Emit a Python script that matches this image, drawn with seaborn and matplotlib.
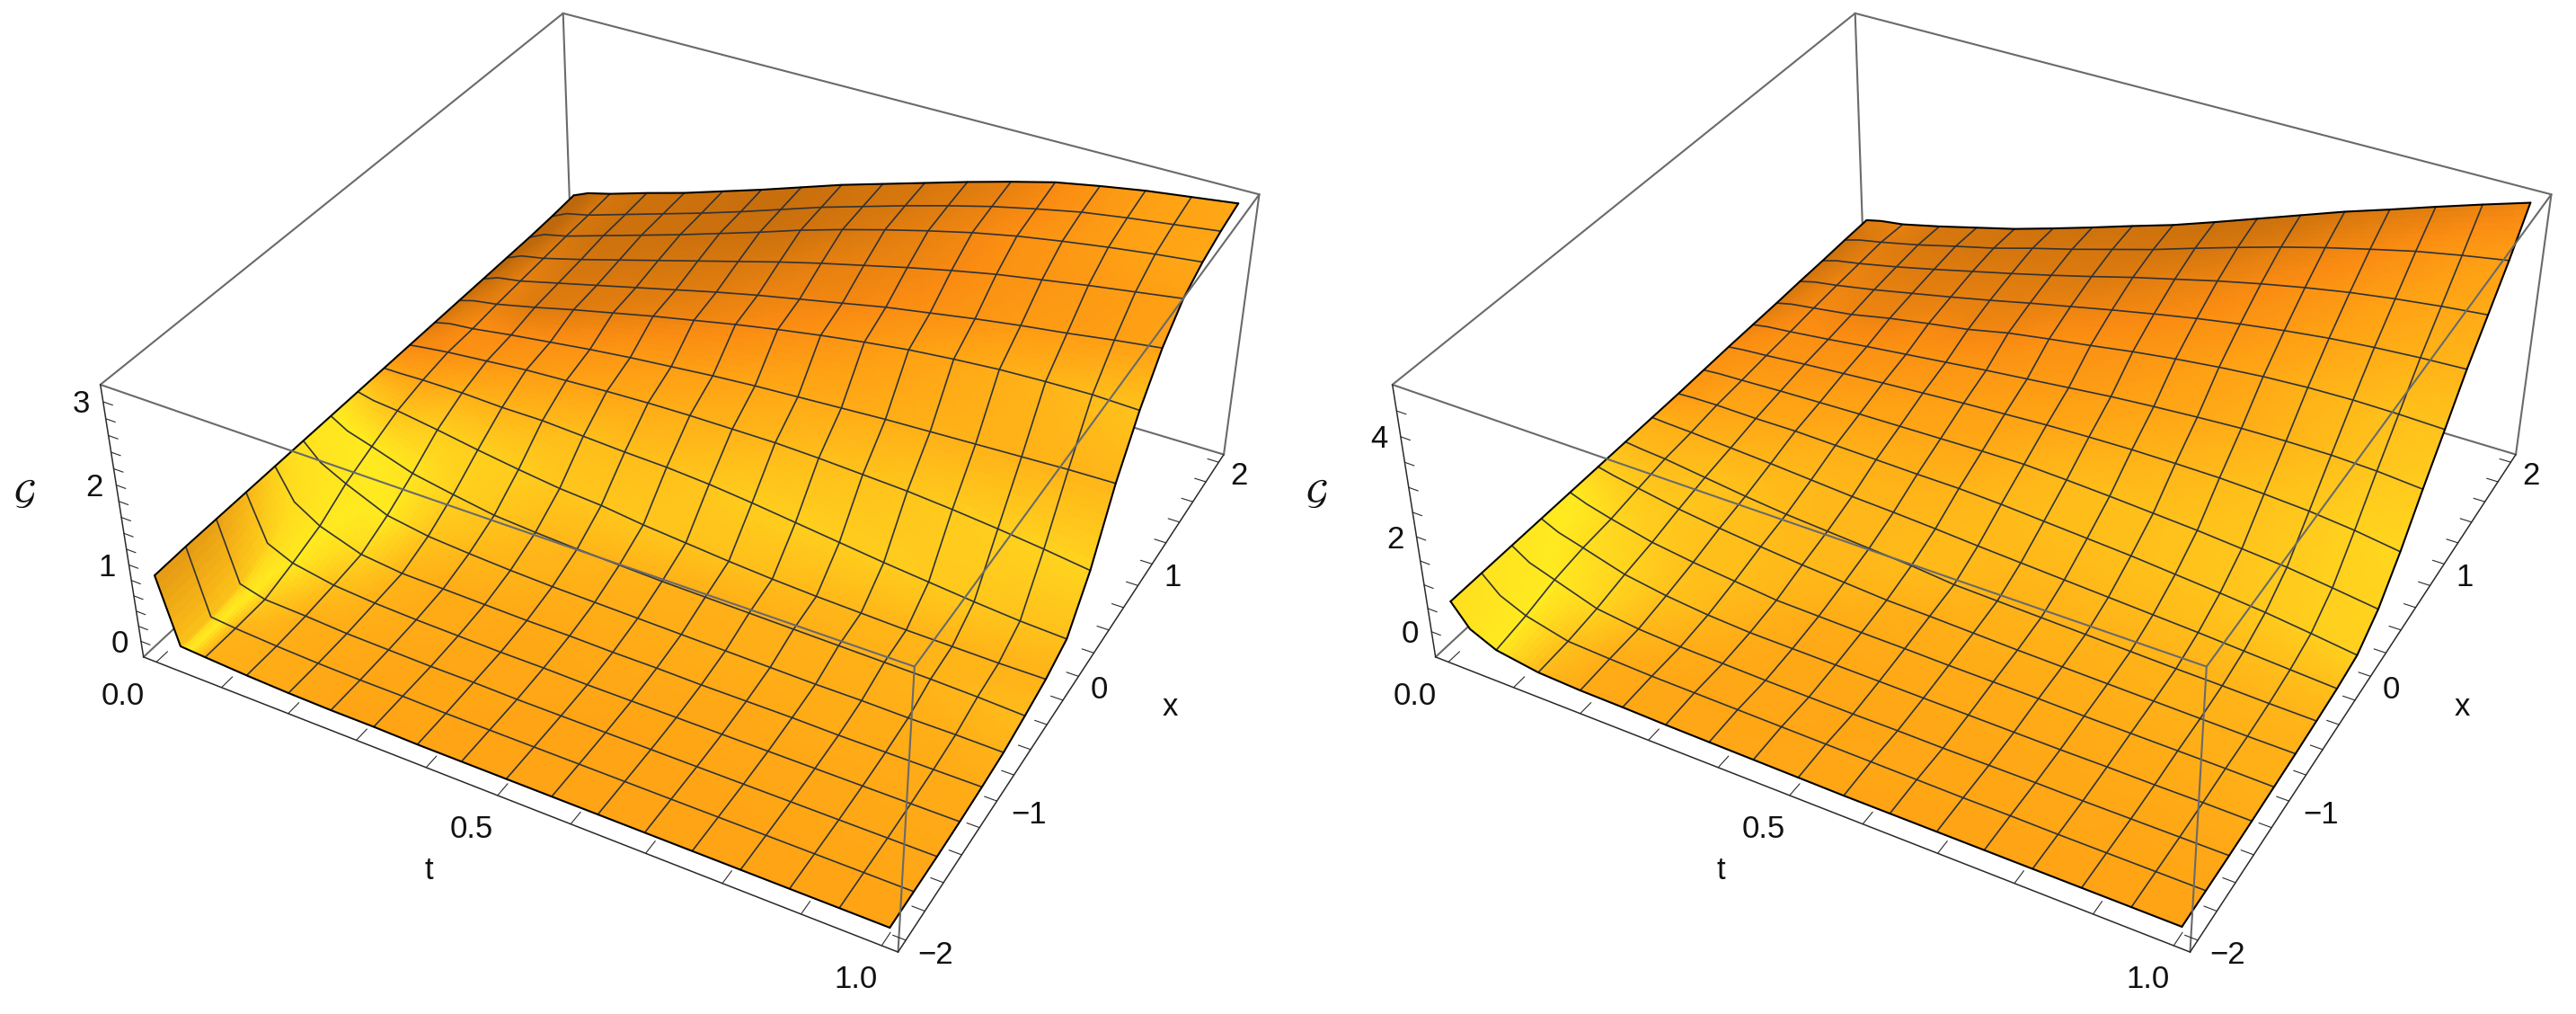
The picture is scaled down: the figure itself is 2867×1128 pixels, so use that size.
import numpy as np
import matplotlib
matplotlib.use('Agg')
import matplotlib.pyplot as plt
from mpl_toolkits.mplot3d import proj3d
import seaborn as sns

t_nodes = [0.0, 0.025, 0.0625, 0.125, 0.1875, 0.25, 0.3125, 0.375, 0.4375, 0.5, 0.5625, 0.625, 0.6875, 0.75, 0.8125, 0.875, 0.9375, 1.0]
x_nodes = [-2.0, -1.75, -1.5, -1.25, -1.0, -0.75, -0.5, -0.25, 0.0, 0.25, 0.5, 0.75, 1.0, 1.25, 1.5, 1.75, 2.0]

# one row per x node, values along t
g_left = [
    [.81, -.04, -.06, -.09, -.11, -.12, -.12, -.13, -.13, -.13, -.13, -.13, -.13, -.13, -.13, -.13, -.13, -.13],
    [.82, -.03, -.06, -.09, -.11, -.12, -.12, -.13, -.13, -.13, -.13, -.13, -.13, -.13, -.13, -.13, -.13, -.13],
    [.82, .04, -.05, -.07, -.10, -.11, -.12, -.12, -.13, -.13, -.13, -.13, -.13, -.13, -.13, -.13, -.13, -.13],
    [.82, .22, .07, -.03, -.07, -.09, -.10, -.11, -.11, -.12, -.12, -.12, -.12, -.12, -.12, -.12, -.12, -.12],
    [.82, .42, .21, .02, -.04, -.05, -.06, -.07, -.07, -.08, -.08, -.09, -.09, -.09, -.10, -.10, -.10, -.10],
    [.82, .60, .43, .19, .10, .06, .03, .01, .00, -.01, -.02, -.03, -.04, -.05, -.05, -.06, -.06, -.07],
    [.82, .69, .59, .41, .31, .22, .18, .15, .13, .11, .10, .09, .08, .07, .06, .05, .03, .00],
    [.82, .77, .74, .66, .57, .49, .42, .38, .31, .26, .21, .17, .14, .12, .10, .09, .08, .08],
    [.82, .82, .83, .83, .81, .81, .78, .75, .73, .69, .63, .56, .49, .42, .36, .30, .25, .22],
    [.82, .85, .89, .94, .99, 1.02, 1.05, 1.07, 1.08, 1.08, 1.08, 1.06, 1.03, 1.00, .95, .89, .82, .74],
    [.82, .87, .90, .98, 1.05, 1.12, 1.18, 1.23, 1.28, 1.32, 1.35, 1.38, 1.41, 1.43, 1.45, 1.47, 1.49, 1.50],
    [.82, .88, .93, 1.05, 1.18, 1.30, 1.42, 1.53, 1.64, 1.74, 1.83, 1.91, 1.98, 2.03, 2.07, 2.09, 2.10, 2.08],
    [.82, .90, .95, 1.08, 1.21, 1.34, 1.47, 1.60, 1.72, 1.83, 1.94, 2.05, 2.14, 2.23, 2.31, 2.38, 2.46, 2.53],
    [.82, .91, .97, 1.11, 1.26, 1.41, 1.56, 1.71, 1.86, 2.00, 2.13, 2.26, 2.38, 2.49, 2.58, 2.67, 2.75, 2.83],
    [.82, .92, .99, 1.15, 1.31, 1.47, 1.64, 1.81, 1.99, 2.15, 2.30, 2.44, 2.57, 2.68, 2.77, 2.85, 2.92, 2.98],
    [.83, .93, 1.00, 1.16, 1.32, 1.48, 1.65, 1.83, 2.01, 2.17, 2.33, 2.48, 2.62, 2.74, 2.85, 2.93, 3.00, 3.07],
    [.85, .94, 1.02, 1.18, 1.33, 1.50, 1.67, 1.85, 2.03, 2.19, 2.35, 2.51, 2.66, 2.80, 2.90, 2.99, 3.06, 3.13],
]
g_right = [
    [.56, .10, -.15, -.29, -.33, -.34, -.36, -.37, -.38, -.39, -.40, -.40, -.40, -.40, -.40, -.40, -.40, -.40],
    [.56, .21, -.03, -.25, -.29, -.32, -.33, -.34, -.35, -.36, -.37, -.38, -.39, -.39, -.40, -.40, -.40, -.40],
    [.56, .32, .14, -.16, -.27, -.32, -.34, -.36, -.37, -.38, -.38, -.39, -.39, -.39, -.40, -.40, -.40, -.40],
    [.56, .39, .24, -.02, -.16, -.25, -.30, -.31, -.32, -.33, -.34, -.35, -.36, -.37, -.37, -.38, -.38, -.39],
    [.56, .43, .29, .09, -.03, -.12, -.21, -.23, -.25, -.26, -.28, -.29, -.30, -.32, -.33, -.34, -.35, -.37],
    [.56, .48, .39, .24, .13, .04, -.04, -.10, -.16, -.18, -.21, -.24, -.26, -.28, -.30, -.32, -.34, -.35],
    [.56, .52, .48, .37, .26, .17, .11, .05, -.01, -.10, -.13, -.16, -.19, -.22, -.25, -.27, -.30, -.32],
    [.56, .54, .52, .47, .42, .36, .30, .26, .21, .15, .10, .05, .00, -.05, -.10, -.16, -.22, -.28],
    [.56, .58, .59, .58, .59, .57, .55, .53, .52, .48, .42, .36, .30, .22, .14, .05, -.07, -.20],
    [.57, .60, .62, .66, .69, .72, .74, .76, .78, .79, .75, .70, .64, .58, .50, .42, .30, .17],
    [.58, .62, .66, .74, .81, .88, .94, 1.00, 1.05, 1.10, 1.13, 1.15, 1.15, 1.14, 1.10, 1.04, .94, .80],
    [.58, .64, .69, .79, .90, 1.00, 1.10, 1.20, 1.29, 1.38, 1.47, 1.54, 1.60, 1.65, 1.67, 1.67, 1.63, 1.55],
    [.58, .66, .73, .85, 1.03, 1.18, 1.32, 1.51, 1.65, 1.78, 1.92, 2.04, 2.14, 2.22, 2.27, 2.29, 2.28, 2.25],
    [.59, .68, .76, .92, 1.10, 1.28, 1.47, 1.67, 1.86, 2.05, 2.23, 2.40, 2.55, 2.68, 2.79, 2.87, 2.93, 2.97],
    [.59, .69, .78, .96, 1.16, 1.37, 1.58, 1.80, 2.03, 2.27, 2.49, 2.71, 2.91, 3.09, 3.25, 3.38, 3.49, 3.58],
    [.60, .70, .80, .99, 1.21, 1.42, 1.67, 1.90, 2.15, 2.40, 2.68, 2.95, 3.21, 3.45, 3.67, 3.88, 4.05, 4.20],
    [.60, .68, .75, .95, 1.17, 1.39, 1.65, 1.92, 2.20, 2.47, 2.78, 3.10, 3.42, 3.74, 4.03, 4.33, 4.62, 4.90],
]

t_ticks = [0.0, 0.1, 0.2, 0.3, 0.4, 0.5, 0.6, 0.7, 0.8, 0.9, 1.0]
x_ticks = [-2.0, -1.8, -1.6, -1.4, -1.2, -1.0, -0.8, -0.6, -0.4, -0.2, 0.0, 0.2, 0.4, 0.6, 0.8, 1.0, 1.2, 1.4, 1.6, 1.8, 2.0]
z_ticks_left = [0.0, 0.2, 0.4, 0.6, 0.8, 1.0, 1.2, 1.4, 1.6, 1.8, 2.0, 2.2, 2.4, 2.6, 2.8, 3.0]
z_ticks_right = [0.0, 0.5, 1.0, 1.5, 2.0, 2.5, 3.0, 3.5, 4.0, 4.5]
t_labels = [(0.0, '0.0'), (0.5, '0.5'), (1.0, '1.0')]
x_labels = [(-2, '\u22122'), (-1, '\u22121'), (0, '0'), (1, '1'), (2, '2')]
z_labels_left = [(0, '0'), (1, '1'), (2, '2'), (3, '3')]
z_labels_right = [(0, '0'), (2, '2'), (4, '4')]

t_lim = (-0.02, 1.02)
x_lim = (-2.08, 2.08)
z_lim_left = (-0.21, 3.2)
z_lim_right = (-0.55, 5.0)

W, H = 2867, 1128
panel_shift = 1438

# camera and how the projected box lands on the canvas
elev, azim, focal = 36.04, -61.55, 0.436
box = (1, 1.004, 0.4)
scale, tx, ty = 7066.3, 789.2, 470.0

sns.set_theme(style='white')
plt.rcParams['font.family'] = ['Liberation Sans', 'DejaVu Sans']
plt.rcParams['mathtext.fontset'] = 'stix'

shade_cmap = sns.blend_palette(['#BE680C', '#D8780E', '#FA8C12', '#FFA415', '#FFBC1A', '#FFD21E',
                                '#FFEA20', '#FFDC1E', '#F8B818', '#E59A14', '#D08A20'], n_colors=256, as_cmap=True)

fig = plt.figure(figsize=(W / 100, H / 100), dpi=100)


def draw_panel(g_values, z_lim, z_ticks, z_labels, shift):
    left = (tx + shift - 0.095 * scale) / W
    bottom = 1 - (ty + 0.095 * scale) / H
    ax = fig.add_axes([left, bottom, 0.185 * scale / W, 0.185 * scale / H], projection='3d', computed_zorder=False)
    ax.set_axis_off()
    ax.patch.set_alpha(0)
    ax.set_xlim(*t_lim)
    ax.set_ylim(*x_lim)
    ax.set_zlim(*z_lim)
    ax.set_box_aspect(box)
    ax.view_init(elev=elev, azim=azim)
    ax.set_proj_type('persp', focal_length=focal)

    tn = np.array(t_nodes)
    xn = np.array(x_nodes)
    g = np.array(g_values)

    # colour from the slope of the surface in box units
    xb = (xn - x_lim[0]) / (x_lim[1] - x_lim[0]) * box[1]
    tb = (tn - t_lim[0]) / (t_lim[1] - t_lim[0])
    gb = (g - z_lim[0]) / (z_lim[1] - z_lim[0]) * box[2]
    dx, dt = np.gradient(gb, xb, tb)
    tt = np.tile(tb, (len(xb), 1))
    xx = np.tile(xb[:, None], (1, len(tb)))
    shade = -1.2 * dt + 0.2 * dx * (1 - 0.95 * tt) + 0.2 * tt ** 2 * xx
    shade = np.where(shade > 0.45, 0.45 + (shade - 0.45) * 0.1, shade)

    # same geometry on a finer grid so that the shading looks smooth
    n = 8
    ti = np.interp(np.linspace(0, len(tn) - 1, (len(tn) - 1) * n + 1), np.arange(len(tn)), tn)
    xi = np.interp(np.linspace(0, len(xn) - 1, (len(xn) - 1) * n + 1), np.arange(len(xn)), xn)
    gi = np.array([np.interp(ti, tn, row) for row in g])
    gi = np.array([np.interp(xi, xn, col) for col in gi.T]).T
    si = np.array([np.interp(ti, tn, row) for row in shade])
    si = np.array([np.interp(xi, xn, col) for col in si.T]).T
    T, X = np.meshgrid(ti, xi)
    norm = np.clip((si + 0.45) / 1.5, 0, 1)
    faces = shade_cmap(0.25 * (norm[:-1, :-1] + norm[1:, :-1] + norm[:-1, 1:] + norm[1:, 1:]))
    surf = ax.plot_surface(T, X, gi, facecolors=faces, rstride=1, cstride=1, shade=False,
                           linewidth=0, antialiased=False, zorder=2)
    surf.set_clip_on(False)

    line = dict(clip_on=False, solid_capstyle='round')
    gray = '#6a6a6a'
    zlo, zhi = z_lim
    tlo, thi = t_lim
    xlo, xhi = x_lim
    # box edges behind the surface
    ax.plot([tlo, tlo], [xlo, xhi], [zlo, zlo], color=gray, lw=1.5, zorder=1, **line)
    ax.plot([tlo, thi], [xhi, xhi], [zlo, zlo], color=gray, lw=1.5, zorder=1, **line)
    ax.plot([tlo, tlo], [xhi, xhi], [zlo, zhi], color=gray, lw=1.5, zorder=1, **line)
    ax.plot([thi, thi], [xhi, xhi], [zlo, zhi], color=gray, lw=1.5, zorder=1, **line)

    # mesh, the second t node is only there for the steep start and gets no line
    for i in range(1, len(xn) - 1):
        ax.plot(tn, [xn[i]] * len(tn), g[i], color='#333333', lw=1.2, zorder=3, **line)
    for j in range(2, len(tn) - 1):
        ax.plot([tn[j]] * len(xn), xn, g[:, j], color='#333333', lw=1.2, zorder=3, **line)
    # outline
    ax.plot(tn, [xn[0]] * len(tn), g[0], color='black', lw=1.5, zorder=4, **line)
    ax.plot(tn, [xn[-1]] * len(tn), g[-1], color='black', lw=1.5, zorder=4, **line)
    ax.plot([tn[0]] * len(xn), xn, g[:, 0], color='black', lw=1.5, zorder=4, **line)
    ax.plot([tn[-1]] * len(xn), xn, g[:, -1], color='black', lw=1.5, zorder=4, **line)

    # box edges in front of the surface
    ax.plot([tlo, thi], [xlo, xlo], [zhi, zhi], color=gray, lw=1.5, zorder=5, **line)
    ax.plot([thi, thi], [xlo, xhi], [zhi, zhi], color=gray, lw=1.5, zorder=5, **line)
    ax.plot([tlo, thi], [xhi, xhi], [zhi, zhi], color=gray, lw=1.5, zorder=5, **line)
    ax.plot([tlo, tlo], [xlo, xhi], [zhi, zhi], color=gray, lw=1.5, zorder=5, **line)
    ax.plot([thi, thi], [xlo, xlo], [zlo, zhi], color=gray, lw=1.5, zorder=5, **line)

    # axes with ticks
    dark = '#2a2a2a'
    ax.plot([tlo, thi], [xlo, xlo], [zlo, zlo], color=dark, lw=1.1, zorder=6, **line)
    ax.plot([thi, thi], [xlo, xhi], [zlo, zlo], color=dark, lw=1.1, zorder=6, **line)
    ax.plot([tlo, tlo], [xlo, xlo], [zlo, zhi], color=dark, lw=1.1, zorder=6, **line)
    for v in t_ticks:
        ax.plot([v, v], [xlo, xlo + 0.09], [zlo, zlo], color=dark, lw=0.8, zorder=6, **line)
    for v in x_ticks:
        ax.plot([thi, thi - 0.016], [v, v], [zlo, zlo], color=dark, lw=0.8, zorder=6, **line)
    for v in z_ticks:
        ax.plot([tlo, tlo + 0.014], [xlo, xlo], [v, v], color=dark, lw=0.8, zorder=6, **line)

    proj = ax.get_proj()

    def lab(tv, xv, zv, txt, dx_px, dy_px):
        px, py, _ = proj3d.proj_transform(tv, xv, zv, proj)
        fig.text((tx + shift + scale * px + dx_px) / W, 1 - (ty - scale * py + dy_px) / H, txt,
                 ha='center', va='center', fontsize=25, color='#111111')

    for v, txt in t_labels:
        lab(v, xlo, zlo, txt, -37 if v == 0 else -29, 38)
    for v, txt in x_labels:
        lab(thi, v, zlo, txt, 36 if v > -2 and v < 0 else (33 if v < 0 else 23), 17 if v == -2 else 15)
    for v, txt in z_labels:
        lab(tlo, xlo, v, txt, -24, 3)

    fig.text((477 + shift) / W, 1 - 969 / H, 't', ha='center', va='center', fontsize=25, color='#111111')
    fig.text((1302 + shift) / W, 1 - 786 / H, 'x', ha='center', va='center', fontsize=25, color='#111111')
    fig.text((27 + shift) / W, 1 - 550 / H, r'$\mathcal{G}$', ha='center', va='center', fontsize=28, color='#111111')


draw_panel(g_left, z_lim_left, z_ticks_left, z_labels_left, 0)
draw_panel(g_right, z_lim_right, z_ticks_right, z_labels_right, panel_shift)

fig.savefig('out.png', dpi=100, facecolor='white')
